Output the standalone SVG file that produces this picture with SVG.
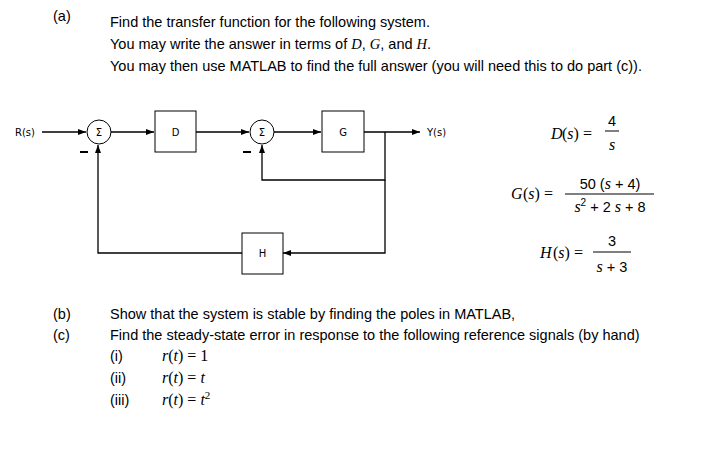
<svg xmlns="http://www.w3.org/2000/svg" width="723" height="464" viewBox="0 0 723 464">
<defs>
<marker id="ar" markerWidth="8" markerHeight="6" refX="8" refY="3" orient="auto" markerUnits="userSpaceOnUse"><path d="M0,0 L8,3 L0,6 z" fill="#000"/></marker>
<style>
.t{font-family:"Liberation Sans",Arial,sans-serif;font-size:14.5px;fill:#000}
.s{font-family:"DejaVu Sans",sans-serif;font-size:10px;fill:#000}
.m{font-family:"Liberation Serif",serif;font-size:16px;fill:#000}
.mi{font-family:"Liberation Serif",serif;font-size:16px;font-style:italic;fill:#000}
.b{fill:#fff;stroke:#000;stroke-width:1}
.c{fill:none;stroke:#000;stroke-width:1.3}
</style>
</defs>
<rect width="723" height="464" fill="#fff"/>
<text class="t" x="53" y="21">(a)</text>
<text class="t" x="110" y="27">Find the transfer function for the following system.</text>
<text class="t" x="110" y="49">You may write the answer in terms of <tspan font-style="italic" font-family="Liberation Serif">D</tspan>, <tspan font-style="italic" font-family="Liberation Serif">G</tspan>, and <tspan font-style="italic" font-family="Liberation Serif">H</tspan>.</text>
<text class="t" x="110" y="71">You may then use MATLAB to find the full answer (you will need this to do part (c)).</text>
<g id="connectors" class="c">
<path d="M42,132 H86" marker-end="url(#ar)"/>
<path d="M111,132 H154" marker-end="url(#ar)"/>
<path d="M196,132 H249" marker-end="url(#ar)"/>
<path d="M274,132 H321" marker-end="url(#ar)"/>
<path d="M364,132 H420" marker-end="url(#ar)"/>
<path d="M385,132 V180 H262 V145" marker-end="url(#ar)"/>
<path d="M385,180 V253 H283" marker-end="url(#ar)"/>
<path d="M242,253 H98 V145" marker-end="url(#ar)"/>
<path d="M80,152 H88 M243,152 H251" stroke-width="1.8"/>
</g>
<g id="R"><text class="s" x="15" y="136">R(s)</text></g>
<g id="sum1"><circle class="b" cx="99" cy="132" r="12"/><text class="s" x="99" y="136" text-anchor="middle">Σ</text></g>
<g id="D"><rect class="b" x="155" y="111" width="41" height="41"/><text class="s" x="175.5" y="136" text-anchor="middle">D</text></g>
<g id="sum2"><circle class="b" cx="262" cy="132" r="12"/><text class="s" x="262" y="136" text-anchor="middle">Σ</text></g>
<g id="G"><rect class="b" x="322" y="111" width="42" height="41"/><text class="s" x="343" y="136" text-anchor="middle">G</text></g>
<g id="Y"><text class="s" x="427" y="136">Y(s)</text></g>
<g id="H"><rect class="b" x="242" y="233" width="41" height="41"/><text class="s" x="262.5" y="257" text-anchor="middle">H</text></g>
<g id="eqD"><text class="mi" x="551" y="139">D</text><text class="m" x="562" y="139">(<tspan font-style="italic">s</tspan>) =</text>
<text class="t" x="612" y="126" text-anchor="middle">4</text><line x1="605" y1="131" x2="619" y2="131" stroke="#000"/><text class="mi" x="612" y="150" text-anchor="middle">s</text></g>
<g id="eqG"><text class="mi" x="511" y="199">G</text><text class="m" x="523" y="199">(<tspan font-style="italic">s</tspan>) =</text>
<text class="t" x="610" y="189" text-anchor="middle">50 (<tspan font-style="italic" font-family="Liberation Serif" font-size="16">s</tspan> + 4)</text><line x1="565" y1="194" x2="654" y2="194" stroke="#000"/>
<text class="t" x="610" y="212" text-anchor="middle"><tspan font-style="italic" font-family="Liberation Serif" font-size="16">s</tspan><tspan font-size="10" dy="-6">2</tspan><tspan dy="6"> + 2 </tspan><tspan font-style="italic" font-family="Liberation Serif" font-size="16">s</tspan> + 8</text></g>
<g id="eqH"><text class="mi" x="540" y="258">H</text><text class="m" x="553" y="258">(<tspan font-style="italic">s</tspan>) =</text>
<text class="t" x="612" y="246" text-anchor="middle">3</text><line x1="593" y1="252" x2="631" y2="252" stroke="#000"/><text class="t" x="612" y="272" text-anchor="middle"><tspan font-style="italic" font-family="Liberation Serif" font-size="16">s</tspan> + 3</text></g>
<text class="t" x="53" y="319">(b)</text><text class="t" x="110" y="319">Show that the system is stable by finding the poles in MATLAB,</text>
<text class="t" x="53" y="340">(c)</text><text class="t" x="110" y="340">Find the steady-state error in response to the following reference signals (by hand)</text>
<text class="t" x="110" y="361">(i)</text><text class="m" x="162" y="361"><tspan font-style="italic">r</tspan>(<tspan font-style="italic">t</tspan>) = 1</text>
<text class="t" x="110" y="383">(ii)</text><text class="m" x="162" y="383"><tspan font-style="italic">r</tspan>(<tspan font-style="italic">t</tspan>) = <tspan font-style="italic">t</tspan></text>
<text class="t" x="110" y="405">(iii)</text><text class="m" x="162" y="405"><tspan font-style="italic">r</tspan>(<tspan font-style="italic">t</tspan>) = <tspan font-style="italic">t</tspan><tspan font-size="11" dy="-6">2</tspan></text>
</svg>
